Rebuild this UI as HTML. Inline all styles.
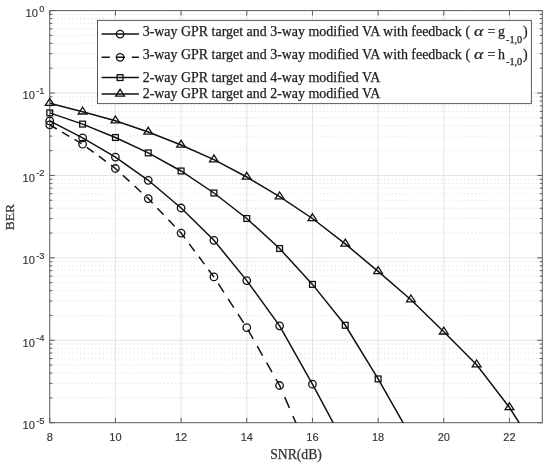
<!DOCTYPE html>
<html><head><meta charset="utf-8"><title>BER vs SNR</title>
<style>html,body{margin:0;padding:0;background:#fff}svg{display:block}</style></head>
<body>
<svg width="550" height="465" viewBox="0 0 550 465">
<rect width="550" height="465" fill="#fff"/>
<defs><clipPath id="c"><rect x="49.75" y="10.6" width="492.54999999999995" height="412.09999999999997"/></clipPath></defs>
<path d="M115.42 10.6V422.7M181.10 10.6V422.7M246.77 10.6V422.7M312.44 10.6V422.7M378.12 10.6V422.7M443.79 10.6V422.7M509.46 10.6V422.7M49.75 93.02H542.3M49.75 175.44H542.3M49.75 257.86H542.3M49.75 340.28H542.3" stroke="#e4e4e4" stroke-width="1" fill="none"/>
<path d="M49.75 68.21H542.3M49.75 53.70H542.3M49.75 43.40H542.3M49.75 35.41H542.3M49.75 28.88H542.3M49.75 23.37H542.3M49.75 18.59H542.3M49.75 14.37H542.3M49.75 150.63H542.3M49.75 136.12H542.3M49.75 125.82H542.3M49.75 117.83H542.3M49.75 111.30H542.3M49.75 105.79H542.3M49.75 101.01H542.3M49.75 96.79H542.3M49.75 233.05H542.3M49.75 218.54H542.3M49.75 208.24H542.3M49.75 200.25H542.3M49.75 193.72H542.3M49.75 188.21H542.3M49.75 183.43H542.3M49.75 179.21H542.3M49.75 315.47H542.3M49.75 300.96H542.3M49.75 290.66H542.3M49.75 282.67H542.3M49.75 276.14H542.3M49.75 270.63H542.3M49.75 265.85H542.3M49.75 261.63H542.3M49.75 397.89H542.3M49.75 383.38H542.3M49.75 373.08H542.3M49.75 365.09H542.3M49.75 358.56H542.3M49.75 353.05H542.3M49.75 348.27H542.3M49.75 344.05H542.3" stroke="#d9d9d9" stroke-width="1" stroke-dasharray="1 2.8" fill="none"/>
<path d="M49.75 422.7v-5M49.75 10.6v5M115.42 422.7v-5M115.42 10.6v5M181.10 422.7v-5M181.10 10.6v5M246.77 422.7v-5M246.77 10.6v5M312.44 422.7v-5M312.44 10.6v5M378.12 422.7v-5M378.12 10.6v5M443.79 422.7v-5M443.79 10.6v5M509.46 422.7v-5M509.46 10.6v5M49.75 10.60h5M542.3 10.60h-5M49.75 93.02h5M542.3 93.02h-5M49.75 175.44h5M542.3 175.44h-5M49.75 257.86h5M542.3 257.86h-5M49.75 340.28h5M542.3 340.28h-5M49.75 422.70h5M542.3 422.70h-5M49.75 68.21h2.6M542.3 68.21h-2.6M49.75 53.70h2.6M542.3 53.70h-2.6M49.75 43.40h2.6M542.3 43.40h-2.6M49.75 35.41h2.6M542.3 35.41h-2.6M49.75 28.88h2.6M542.3 28.88h-2.6M49.75 23.37h2.6M542.3 23.37h-2.6M49.75 18.59h2.6M542.3 18.59h-2.6M49.75 14.37h2.6M542.3 14.37h-2.6M49.75 150.63h2.6M542.3 150.63h-2.6M49.75 136.12h2.6M542.3 136.12h-2.6M49.75 125.82h2.6M542.3 125.82h-2.6M49.75 117.83h2.6M542.3 117.83h-2.6M49.75 111.30h2.6M542.3 111.30h-2.6M49.75 105.79h2.6M542.3 105.79h-2.6M49.75 101.01h2.6M542.3 101.01h-2.6M49.75 96.79h2.6M542.3 96.79h-2.6M49.75 233.05h2.6M542.3 233.05h-2.6M49.75 218.54h2.6M542.3 218.54h-2.6M49.75 208.24h2.6M542.3 208.24h-2.6M49.75 200.25h2.6M542.3 200.25h-2.6M49.75 193.72h2.6M542.3 193.72h-2.6M49.75 188.21h2.6M542.3 188.21h-2.6M49.75 183.43h2.6M542.3 183.43h-2.6M49.75 179.21h2.6M542.3 179.21h-2.6M49.75 315.47h2.6M542.3 315.47h-2.6M49.75 300.96h2.6M542.3 300.96h-2.6M49.75 290.66h2.6M542.3 290.66h-2.6M49.75 282.67h2.6M542.3 282.67h-2.6M49.75 276.14h2.6M542.3 276.14h-2.6M49.75 270.63h2.6M542.3 270.63h-2.6M49.75 265.85h2.6M542.3 265.85h-2.6M49.75 261.63h2.6M542.3 261.63h-2.6M49.75 397.89h2.6M542.3 397.89h-2.6M49.75 383.38h2.6M542.3 383.38h-2.6M49.75 373.08h2.6M542.3 373.08h-2.6M49.75 365.09h2.6M542.3 365.09h-2.6M49.75 358.56h2.6M542.3 358.56h-2.6M49.75 353.05h2.6M542.3 353.05h-2.6M49.75 348.27h2.6M542.3 348.27h-2.6M49.75 344.05h2.6M542.3 344.05h-2.6" stroke="#5a5a5a" stroke-width="1" fill="none"/>
<rect x="49.75" y="10.6" width="492.54999999999995" height="412.09999999999997" fill="none" stroke="#5a5a5a" stroke-width="1"/>
<g clip-path="url(#c)" fill="none" stroke="#111">
<polyline points="49.75,103.20 82.59,111.80 115.42,120.70 148.26,132.00 181.10,145.00 213.93,159.60 246.77,177.00 279.61,196.70 312.44,218.50 345.28,243.90 378.12,271.40 410.95,299.70 443.79,331.80 476.63,364.70 509.46,407.50 542.30,459.00" stroke-width="1.5"/>
<polyline points="49.75,112.90 82.59,124.10 115.42,137.50 148.26,152.90 181.10,171.00 213.93,193.00 246.77,218.50 279.61,248.50 312.44,284.40 345.28,325.30 378.12,378.90 410.95,436.60" stroke-width="1.5"/>
<polyline points="49.75,120.90 82.59,137.80 115.42,157.10 148.26,180.30 181.10,208.00 213.93,240.30 246.77,280.60 279.61,325.80 312.44,384.20 345.28,445.30" stroke-width="1.5"/>
<path d="M49.8 124.8L56.8 129.0M62.1 132.1L69.2 136.3M74.5 139.4L81.5 143.6M86.8 147.3L93.7 152.4M98.9 156.2L105.8 161.4M111.0 165.2L115.4 168.5L117.8 170.7M122.8 175.3L129.5 181.4M134.6 186.0L141.2 192.2M146.3 196.8L148.3 198.6L152.7 203.2M157.4 208.2L163.6 214.8M168.4 219.7L174.6 226.3M179.3 231.3L181.1 233.1L185.1 238.4M189.2 243.9L194.7 251.3M198.9 256.8L204.4 264.1M208.5 269.7L213.9 276.9L214.0 277.0M218.3 283.6L223.9 292.3M228.1 298.9L233.8 307.6M238.0 314.2L243.7 322.9M247.9 329.6L253.2 339.0M257.2 346.1L262.6 355.6M266.6 362.7L272.0 372.1M276.0 379.2L279.6 385.5L281.1 389.0M284.7 397.1L289.4 407.9M292.9 416.0L297.6 426.7M301.1 434.8L305.8 445.5M309.3 453.7L312.4 460.8" stroke-width="1.5"/>
</g>
<g fill="none" stroke="#111" stroke-width="1.3">
<path d="M49.75 98.50L54.15 105.40H45.35Z"/>
<path d="M82.59 107.10L86.99 114.00H78.19Z"/>
<path d="M115.42 116.00L119.82 122.90H111.02Z"/>
<path d="M148.26 127.30L152.66 134.20H143.86Z"/>
<path d="M181.10 140.30L185.50 147.20H176.70Z"/>
<path d="M213.93 154.90L218.33 161.80H209.53Z"/>
<path d="M246.77 172.30L251.17 179.20H242.37Z"/>
<path d="M279.61 192.00L284.01 198.90H275.21Z"/>
<path d="M312.44 213.80L316.84 220.70H308.04Z"/>
<path d="M345.28 239.20L349.68 246.10H340.88Z"/>
<path d="M378.12 266.70L382.52 273.60H373.72Z"/>
<path d="M410.95 295.00L415.35 301.90H406.55Z"/>
<path d="M443.79 327.10L448.19 334.00H439.39Z"/>
<path d="M476.63 360.00L481.03 366.90H472.23Z"/>
<path d="M509.46 402.80L513.86 409.70H505.06Z"/>
<rect x="46.85" y="110.00" width="5.8" height="5.8"/>
<rect x="79.69" y="121.20" width="5.8" height="5.8"/>
<rect x="112.52" y="134.60" width="5.8" height="5.8"/>
<rect x="145.36" y="150.00" width="5.8" height="5.8"/>
<rect x="178.20" y="168.10" width="5.8" height="5.8"/>
<rect x="211.03" y="190.10" width="5.8" height="5.8"/>
<rect x="243.87" y="215.60" width="5.8" height="5.8"/>
<rect x="276.71" y="245.60" width="5.8" height="5.8"/>
<rect x="309.54" y="281.50" width="5.8" height="5.8"/>
<rect x="342.38" y="322.40" width="5.8" height="5.8"/>
<rect x="375.22" y="376.00" width="5.8" height="5.8"/>
<circle cx="49.75" cy="120.90" r="3.75"/>
<circle cx="82.59" cy="137.80" r="3.75"/>
<circle cx="115.42" cy="157.10" r="3.75"/>
<circle cx="148.26" cy="180.30" r="3.75"/>
<circle cx="181.10" cy="208.00" r="3.75"/>
<circle cx="213.93" cy="240.30" r="3.75"/>
<circle cx="246.77" cy="280.60" r="3.75"/>
<circle cx="279.61" cy="325.80" r="3.75"/>
<circle cx="312.44" cy="384.20" r="3.75"/>
<circle cx="49.75" cy="124.80" r="3.75"/>
<circle cx="82.59" cy="144.20" r="3.75"/>
<circle cx="115.42" cy="168.50" r="3.75"/>
<circle cx="148.26" cy="198.60" r="3.75"/>
<circle cx="181.10" cy="233.10" r="3.75"/>
<circle cx="213.93" cy="276.90" r="3.75"/>
<circle cx="246.77" cy="327.70" r="3.75"/>
<circle cx="279.61" cy="385.50" r="3.75"/>
</g>
<g font-family="Liberation Sans, Arial, sans-serif" fill="#333" stroke="#333" stroke-width="0.15">
<text x="49.75" y="440.5" font-size="11" text-anchor="middle">8</text>
<text x="115.42" y="440.5" font-size="11" text-anchor="middle">10</text>
<text x="181.10" y="440.5" font-size="11" text-anchor="middle">12</text>
<text x="246.77" y="440.5" font-size="11" text-anchor="middle">14</text>
<text x="312.44" y="440.5" font-size="11" text-anchor="middle">16</text>
<text x="378.12" y="440.5" font-size="11" text-anchor="middle">18</text>
<text x="443.79" y="440.5" font-size="11" text-anchor="middle">20</text>
<text x="509.46" y="440.5" font-size="11" text-anchor="middle">22</text>
<text x="37.9" y="17.00" font-size="11.1" text-anchor="end">10</text>
<text x="39.2" y="11.50" font-size="9.3">0</text>
<text x="34.9" y="99.42" font-size="11.1" text-anchor="end">10</text>
<text x="36.2" y="93.92" font-size="9.3">-1</text>
<text x="34.9" y="181.84" font-size="11.1" text-anchor="end">10</text>
<text x="36.2" y="176.34" font-size="9.3">-2</text>
<text x="34.9" y="264.26" font-size="11.1" text-anchor="end">10</text>
<text x="36.2" y="258.76" font-size="9.3">-3</text>
<text x="34.9" y="346.68" font-size="11.1" text-anchor="end">10</text>
<text x="36.2" y="341.18" font-size="9.3">-4</text>
<text x="34.9" y="429.10" font-size="11.1" text-anchor="end">10</text>
<text x="36.2" y="423.60" font-size="9.3">-5</text>
</g>
<g font-family="Liberation Serif, Times New Roman, serif" fill="#333" stroke="#333" stroke-width="0.25">
<text x="296.0" y="458.7" font-size="13.7" text-anchor="middle">SNR(dB)</text>
<text transform="translate(13.7,217.2) rotate(-90)" font-size="13.5" text-anchor="middle">BER</text>
</g>
<rect x="97.5" y="20.4" width="433.9" height="83.19999999999999" fill="#fff" stroke="#5a5a5a" stroke-width="1"/>
<g fill="none" stroke="#111">
<path d="M101.6 34.1H138.9" stroke-width="1.5"/>
<path d="M101.6 57.3H138.9" stroke-width="1.5" stroke-dasharray="8.2 6.9"/>
<path d="M101.6 77.6H138.9" stroke-width="1.5"/>
<path d="M101.6 94.0H138.9" stroke-width="1.5"/>
</g>
<g fill="none" stroke="#111" stroke-width="1.3">
<circle cx="120.10" cy="34.10" r="3.75"/>
<circle cx="120.10" cy="57.30" r="3.75"/>
<rect x="117.20" y="74.70" width="5.8" height="5.8"/>
<path d="M120.10 89.30L124.50 96.20H115.70Z"/>
</g>
<g font-family="Liberation Serif, Times New Roman, serif" fill="#222" stroke="#222" stroke-width="0.25" font-size="13.95">
<text x="142.7" y="36.0">3-way GPR target and 3-way modified VA with feedback</text>
<text x="465.4" y="36.0">(</text>
<text transform="translate(474,36.0) scale(1.15,1)" font-style="italic" font-size="15.5">α</text>
<text x="487.6" y="36.0">=</text>
<text x="498" y="36.0">g</text>
<text x="506" y="42.7" font-size="10.2">-1,0</text>
<text x="523" y="36.0">)</text>
<text x="142.7" y="58.6">3-way GPR target and 3-way modified VA with feedback</text>
<text x="465.4" y="58.6">(</text>
<text transform="translate(474,58.6) scale(1.15,1)" font-style="italic" font-size="15.5">α</text>
<text x="487.6" y="58.6">=</text>
<text x="498" y="58.6">h</text>
<text x="506" y="65.3" font-size="10.2">-1,0</text>
<text x="523" y="58.6">)</text>
<text x="142.7" y="81.7">2-way GPR target and 4-way modified VA</text>
<text x="142.7" y="98.4">2-way GPR target and 2-way modified VA</text>
</g>
</svg>
</body></html>
